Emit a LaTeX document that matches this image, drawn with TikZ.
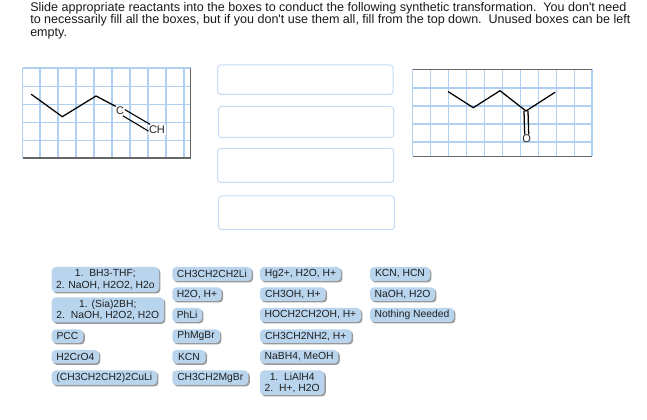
\documentclass[tikz,border=0pt]{standalone}
\usepackage{fontspec}
\setmainfont{Liberation Sans}
\usetikzlibrary{shadows,calc}
\definecolor{gridblue}{HTML}{AFD0F1}
\definecolor{framegray}{HTML}{666666}
\definecolor{slotblue}{HTML}{C5DDF3}
\definecolor{tileblue}{HTML}{B9D5EE}
\tikzset{
  x=0.75pt,y=-0.75pt,
  gridline/.style={gridblue,line width=0.8pt},
  frameline/.style={framegray,line width=0.9pt},
  bond/.style={black,line width=0.95pt,line cap=round},
  atomlabel/.style={font=\fontsize{8.3pt}{9pt}\selectfont,inner sep=0.6pt,text=black!85},
  slot/.style={draw=slotblue,line width=0.75pt,rounded corners=2.2pt,fill=white},
  tile/.style={rectangle,fill=tileblue,rounded corners=3pt,inner sep=0pt,align=center,
    font=\fontsize{7.75pt}{8.7pt}\selectfont,text=black!88,
    general shadow={shadow xshift=1.1pt,shadow yshift=-1.1pt,fill=black!40}},
  headline/.style={anchor=base west,inner sep=0pt,font=\fontsize{9.41pt}{10pt}\selectfont,text=black!90},
}
% \tilenode{name}{x1}{y1}{x2}{y2}{text}
\newcommand{\tilenode}[6]{%
  \pgfmathsetmacro{\tw}{(#4-#2)*0.75}%
  \pgfmathsetmacro{\th}{(#5-#3)*0.75}%
  \node[tile,minimum width=\tw pt,minimum height=\th pt] (#1) at ({(#2+#4)/2},{(#3+#5)/2}) {#6};%
}
\begin{document}
\begin{tikzpicture}
\useasboundingbox (0,0) rectangle (647,420);
% instructions
\node[headline] (h1) at (30,11.5) {Slide appropriate reactants into the boxes to conduct the following synthetic transformation.\ \ You don\textquotesingle t need};
\node[headline] (h2) at (30,23.5) {to necessarily fill all the boxes, but if you don\textquotesingle t use them all, fill from the top down.\ \ Unused boxes can be left};
\node[headline] (h3) at (30,36.5) {empty.};
% left grid
\foreach \gx in {22.5,40,58,76,94,112,130,148,166,184} \draw[gridline] (\gx,68) -- (\gx,158);
\foreach \gy in {68,86.5,104.5,122.5,140.5} \draw[gridline] (22.5,\gy) -- (190.5,\gy);
\draw[frameline] (22.5,158) -- (190.5,158) -- (190.5,68);
% right grid
\foreach \gx in {412.5,430.5,448.5,466.5,484.5,502.5,520.5,538.5,556.5,574.5} \draw[gridline] (\gx,69.5) -- (\gx,156.5);
\foreach \gy in {88,106,124,142} \draw[gridline] (412.5,\gy) -- (592,\gy);
\draw[gridline] (592,69.5) -- (592,156.5);
\draw[frameline] (412.5,69.5) -- (592,69.5);
\draw[frameline] (412.5,156.5) -- (592,156.5);
% left molecule
\coordinate (a1) at (31.3,94.3);
\coordinate (a2) at (62.3,116.7);
\coordinate (a3) at (96,96);
\node[atomlabel,fill=white,inner sep=0.2pt] (cc) at (120,110.7) {C};
\node[atomlabel,fill=white] (ch) at (157,130) {CH};
\draw[bond] (a1) -- (a2) -- (a3) -- (cc.north west);
\draw[bond,line width=0.8pt] ($(cc.center)+(5,-1)$) -- ($(ch.center)+(-7,-5.7)$);
\draw[bond,line width=0.8pt] ($(cc.center)+(3,5.2)$) -- ($(ch.center)+(-8.7,1)$);
% right molecule
\coordinate (b1) at (448.3,91.7);
\coordinate (b2) at (473.3,107.7);
\coordinate (b3) at (500,90.7);
\coordinate (b4) at (526,111);
\coordinate (b5) at (555,92.3);
\node[atomlabel] (oo) at (526.7,139) {O};
\draw[bond] (b1) -- (b2) -- (b3) -- (b4) -- (b5);
\draw[bond] ($(b4)+(-2,0)$) -- ($(oo.north)+(-2,0)$);
\draw[bond] ($(b4)+(2,0)$) -- ($(oo.north)+(2,0)$);
% answer slots
\draw[slot] (217.7,65) rectangle (393,94.3);
\draw[slot] (218.5,106.5) rectangle (393.5,137.5);
\draw[slot] (217.7,148.5) rectangle (393.7,182.5);
\draw[slot] (218.5,196) rectangle (394.5,229.5);
% reagent tiles
\tilenode{t1}{51.7}{267}{159}{292}{1.\ \ BH3-THF;\\2. NaOH, H2O2, H2o}
\tilenode{t2}{51.7}{297.5}{164}{322.5}{1. (Sia)2BH;\\2.\ \ NaOH, H2O2, H2O}
\tilenode{t3}{51.7}{329.5}{83.3}{343}{PCC}
\tilenode{t4}{51.7}{350}{99}{363.5}{H2CrO4}
\tilenode{t5}{51.7}{370.5}{157}{385}{(CH3CH2CH2)2CuLi}
\tilenode{t6}{172.3}{267}{251.7}{281}{CH3CH2CH2Li}
\tilenode{t7}{172.3}{287.3}{221.7}{301}{H2O, H+}
\tilenode{t8}{172.3}{308}{202}{322}{PhLi}
\tilenode{t9}{172.3}{329.3}{220}{343}{PhMgBr}
\tilenode{t10}{172.3}{350}{205.7}{363.5}{KCN}
\tilenode{t11}{172.3}{370.5}{248.3}{385}{CH3CH2MgBr}
\tilenode{t12}{260}{267}{341}{281}{Hg2+, H2O, H+}
\tilenode{t13}{260}{287.3}{325.7}{301}{CH3OH, H+}
\tilenode{t14}{260}{308}{361}{322}{HOCH2CH2OH, H+}
\tilenode{t15}{260}{329.3}{351.7}{343}{CH3CH2NH2, H+}
\tilenode{t16}{260}{350}{338.3}{363.5}{NaBH4, MeOH}
\tilenode{t17}{260}{370.5}{324.3}{395}{1.\ \ LiAlH4\\2.\ \ H+, H2O}
\tilenode{t18}{370}{267}{430}{281}{KCN, HCN}
\tilenode{t19}{370}{287.3}{435}{301}{NaOH, H2O}
\tilenode{t20}{370}{308}{454}{322}{Nothing Needed}
\end{tikzpicture}
\end{document}
